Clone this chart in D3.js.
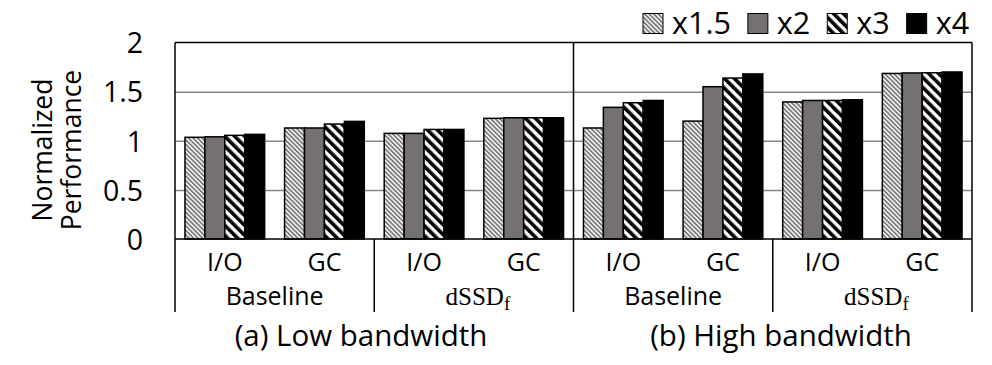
<!DOCTYPE html>
<html lang="en">
<head>
    <meta charset="utf-8">
    <title>D3: Normalized Performance</title>
    <script type="text/javascript" src="https://d3js.org/d3.v7.min.js"></script>
    <style>
        body { margin: 0; background: #fff; }
        text { font-family: "Open Sans", sans-serif; fill: #000; }
    </style>
</head>
<body>
    <script type="text/javascript">

        // Chart data
        var panels = ["(a) Low bandwidth", "(b) High bandwidth"];
        var systems = ["Baseline", "dSSD"];
        var workloads = ["I/O", "GC"];
        var series = ["x1.5", "x2", "x3", "x4"];
        var yTicks = [0, 0.5, 1, 1.5, 2];

        // one value per slot: low-Baseline-I/O, low-Baseline-GC, low-dSSD-I/O, low-dSSD-GC, then the same for high
        var valuesX15 = [1.035, 1.13, 1.075, 1.228, 1.13, 1.20, 1.395, 1.685];
        var valuesX2  = [1.04, 1.13, 1.075, 1.234, 1.34, 1.55, 1.41, 1.69];
        var valuesX3  = [1.055, 1.17, 1.115, 1.234, 1.387, 1.638, 1.41, 1.692];
        var valuesX4  = [1.065, 1.197, 1.115, 1.234, 1.41, 1.68, 1.417, 1.70];
        var seriesValues = [valuesX15, valuesX2, valuesX3, valuesX4];

        // Build slot list
        var slots = [];
        panels.forEach(function(p, pi) {
            systems.forEach(function(s, si) {
                workloads.forEach(function(w, wi) {
                    slots.push({ id: pi + "-" + si + "-" + wi, panel: pi, system: si, workload: w });
                });
            });
        });

        var width = 992, height = 365;
        var plotLeft = 175, plotRight = 972, plotTop = 42.5, plotBottom = 239;

        var svg = d3.select("body").append("svg")
            .attr("width", width)
            .attr("height", height);

        // Patterns
        var defs = svg.append("defs");
        var p1 = defs.append("pattern")
            .attr("id", "pat15")
            .attr("patternUnits", "userSpaceOnUse")
            .attr("width", 3.2).attr("height", 3.2)
            .attr("patternTransform", "rotate(-45)");
        p1.append("rect").attr("width", 3.2).attr("height", 3.2).attr("fill", "#fff");
        p1.append("rect").attr("width", 1.8).attr("height", 3.2).attr("fill", "#7a7a7a");

        var p3 = defs.append("pattern")
            .attr("id", "pat3")
            .attr("patternUnits", "userSpaceOnUse")
            .attr("width", 7).attr("height", 7)
            .attr("patternTransform", "rotate(-45)");
        p3.append("rect").attr("width", 7).attr("height", 7).attr("fill", "#fff");
        p3.append("rect").attr("width", 3.6).attr("height", 7).attr("fill", "#000");

        var fills = ["url(#pat15)", "#767171", "url(#pat3)", "#000"];

        // Scales
        var x = d3.scaleBand()
            .domain(slots.map(function(d) { return d.id; }))
            .range([plotLeft, plotRight])
            .paddingInner(0.2)
            .paddingOuter(0.1);

        var xInner = d3.scaleBand()
            .domain(series)
            .range([0, x.bandwidth()]);

        var y = d3.scaleLinear()
            .domain([0, 2])
            .range([plotBottom, plotTop]);

        // Gridlines
        svg.append("g")
            .attr("transform", "translate(" + plotLeft + ",0)")
            .call(d3.axisLeft(y).tickValues([0.5, 1, 1.5]).tickSize(-(plotRight - plotLeft)).tickFormat(""))
            .call(function(g) { g.select(".domain").remove(); })
            .selectAll("line")
            .attr("stroke", "#868686")
            .attr("stroke-width", 1.5);

        // Y axis labels
        svg.append("g")
            .attr("transform", "translate(" + plotLeft + ",0)")
            .call(d3.axisLeft(y).tickValues(yTicks).tickSize(0).tickPadding(32).tickFormat(function(d) { return d; }))
            .call(function(g) { g.select(".domain").remove(); })
            .selectAll("text")
            .attr("font-family", "Open Sans")
            .attr("font-size", 28.5)
            .attr("dy", "0.36em");

        // Y axis title
        var yTitle = svg.append("text")
            .attr("transform", "translate(0,150) rotate(-90)")
            .attr("text-anchor", "middle")
            .attr("font-size", 26.5);
        yTitle.append("tspan").attr("x", 0).attr("y", 52).text("Normalized");
        yTitle.append("tspan").attr("x", 0).attr("y", 81).text("Performance");

        // Bars
        var groups = svg.selectAll("g.slot")
            .data(slots)
            .enter()
            .append("g")
            .attr("class", "slot")
            .attr("transform", function(d) { return "translate(" + x(d.id) + ",0)"; });

        groups.selectAll("rect")
            .data(function(d, i) {
                return series.map(function(s, k) { return { key: s, k: k, value: seriesValues[k][i] }; });
            })
            .enter()
            .append("rect")
            .attr("x", function(d) { return xInner(d.key); })
            .attr("y", function(d) { return y(d.value); })
            .attr("width", xInner.bandwidth())
            .attr("height", function(d) { return y(0) - y(d.value); })
            .attr("fill", function(d) { return fills[d.k]; })
            .attr("stroke", "#000")
            .attr("stroke-width", 1.5);

        // Frame
        svg.append("line").attr("x1", plotLeft).attr("x2", plotRight).attr("y1", plotTop).attr("y2", plotTop)
            .attr("stroke", "#000").attr("stroke-width", 1.5);
        svg.append("line").attr("x1", plotLeft).attr("x2", plotRight).attr("y1", plotBottom).attr("y2", plotBottom)
            .attr("stroke", "#000").attr("stroke-width", 1.5);

        var step = x.step();
        var systemEdges = d3.range(0, 5).map(function(i) { return plotLeft + i * 2 * step; });

        svg.selectAll("line.sep")
            .data(systemEdges)
            .enter()
            .append("line")
            .attr("class", "sep")
            .attr("x1", function(d) { return d; })
            .attr("x2", function(d) { return d; })
            .attr("y1", function(d, i) { return (i === 0 || i === 2 || i === 4) ? plotTop : plotBottom; })
            .attr("y2", 312)
            .attr("stroke", "#000")
            .attr("stroke-width", 1.5);

        // Workload labels
        svg.selectAll("text.wl")
            .data(slots)
            .enter()
            .append("text")
            .attr("class", "wl")
            .attr("x", function(d) { return x(d.id) + x.bandwidth() / 2; })
            .attr("y", 271)
            .attr("text-anchor", "middle")
            .attr("font-size", 25)
            .text(function(d) { return d.workload; });

        // System labels
        var sysData = [];
        panels.forEach(function(p, pi) {
            systems.forEach(function(s, si) { sysData.push({ name: s, idx: pi * 2 + si }); });
        });

        sysData.forEach(function(d) {
            var cx = plotLeft + (d.idx * 2 + 1) * step;
            if (d.name === "Baseline") {
                svg.append("text")
                    .attr("x", cx).attr("y", 305)
                    .attr("text-anchor", "middle")
                    .attr("font-size", 25)
                    .text("Baseline");
            } else {
                var t = svg.append("text")
                    .attr("x", cx + 4).attr("y", 305)
                    .attr("text-anchor", "middle")
                    .style("font-family", "'Liberation Serif', serif")
                    .attr("font-size", 25);
                t.append("tspan").text("dSSD");
                t.append("tspan").attr("dy", 5).attr("font-size", 19).text("f");
            }
        });

        // Panel captions
        var captionX = [361, 781];
        svg.selectAll("text.cap")
            .data(panels)
            .enter()
            .append("text")
            .attr("class", "cap")
            .attr("x", function(d, i) { return captionX[i]; })
            .attr("y", 346)
            .attr("text-anchor", "middle")
            .attr("font-size", 29.5)
            .text(function(d) { return d; });

        // Legend
        var legend = svg.append("g");
        var items = legend.selectAll("g")
            .data(series)
            .enter()
            .append("g");
        items.append("rect")
            .attr("width", 20).attr("height", 20)
            .attr("y", 13.5)
            .attr("fill", function(d, i) { return fills[i]; })
            .attr("stroke", "#000")
            .attr("stroke-width", 1);
        items.append("text")
            .attr("x", 29)
            .attr("y", 34)
            .attr("font-size", 30.5)
            .text(function(d) { return d; });

        var lx = 643;
        items.each(function() {
            var g = d3.select(this);
            g.attr("transform", "translate(" + lx + ",0)");
            lx += 29 + g.select("text").node().getComputedTextLength() + 17;
        });

    </script>
</body>
</html>
